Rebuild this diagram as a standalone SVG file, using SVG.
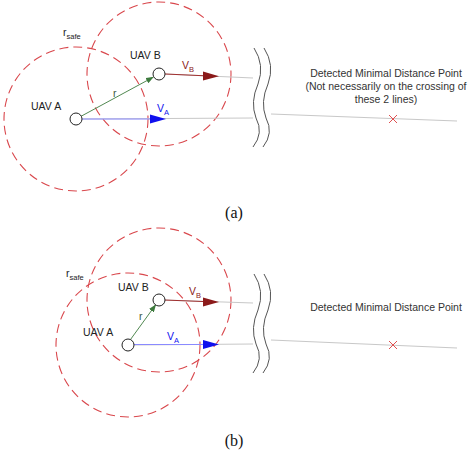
<svg xmlns="http://www.w3.org/2000/svg" width="474" height="452" viewBox="0 0 474 452">
<style>
.safe{fill:none;stroke:#d9474c;stroke-width:1.1;stroke-dasharray:9 5}
.uav{fill:#fff;stroke:#222;stroke-width:1}
.lbl{font-family:"Liberation Sans",Arial,sans-serif;font-size:10.5px;fill:#222}
.sub{font-size:7.5px}
.txt{font-family:"Liberation Sans",Arial,sans-serif;font-size:10.5px;fill:#333;text-anchor:middle}
.ext{fill:none;stroke:#c8c8c8;stroke-width:1}
.wave{fill:none;stroke:#555;stroke-width:1}
.rline{stroke:#3d7a3d;stroke-width:0.9}
.va{stroke:#8a8aff;stroke-width:1}
.vb{stroke:#a03030;stroke-width:1}
.cap{font-family:"Liberation Serif","Times New Roman",serif;font-size:16px;fill:#111;text-anchor:middle}
.x{stroke:#e05050;stroke-width:1}
</style>
<defs>
<marker id="ahR" markerWidth="8" markerHeight="6" refX="7" refY="3" orient="auto" markerUnits="userSpaceOnUse"><path d="M0,0 L8,3 L0,6 Z" fill="#3d7a3d"/></marker>
</defs>

<!-- Panel a -->
<g id="safe-a">
<circle class="safe" cx="76" cy="119" r="72"/>
<circle class="safe" cx="159" cy="74" r="72"/>
</g>
<g id="connectors-a">
<line class="ext" x1="165" y1="74" x2="253" y2="78"/>
<line class="ext" x1="82" y1="119" x2="253" y2="118"/>
<line class="ext" x1="271" y1="114" x2="457" y2="121"/>
<line class="va" x1="82" y1="119" x2="152" y2="119"/>
<path d="M150,114.5 L166,119 L150,123.5 Z" fill="#1010ee"/>
<line class="vb" x1="165" y1="74" x2="205" y2="75.8"/>
<path d="M203,71.5 L219,76.3 L203,80.5 Z" fill="#8b1a1a"/>
<line class="rline" x1="81" y1="116.3" x2="153" y2="77.3" marker-end="url(#ahR)"/>
<path class="wave" d="M254,48 Q265,65 258,84 Q250,102 256,118 Q264,133 253,147"/>
<path class="wave" d="M264,48 Q275,65 268,84 Q260,102 266,118 Q274,133 263,147"/>
</g>
<g id="uav-a-a"><circle class="uav" cx="76" cy="119" r="6"/><text class="lbl" x="31" y="110">UAV A</text></g>
<g id="uav-b-a"><circle class="uav" cx="159" cy="74" r="6"/><text class="lbl" x="130" y="59">UAV B</text></g>
<g id="labels-a">
<text class="lbl" x="63" y="36">r<tspan class="sub" dy="2.5">safe</tspan></text>
<text class="lbl" x="113" y="97" style="fill:#3d5a3d">r</text>
<text class="lbl" x="182" y="69" style="fill:#8b2020">V<tspan class="sub" dy="2.5">B</tspan></text>
<text class="lbl" x="157" y="112" style="fill:#1010ee">V<tspan class="sub" dy="2.5">A</tspan></text>
</g>
<g id="point-a">
<path class="x" d="M389,115 L397,123 M397,115 L389,123"/>
<text class="txt" x="386" y="77">Detected Minimal Distance Point</text>
<text class="txt" x="386" y="90">(Not necessarily on the crossing of</text>
<text class="txt" x="386" y="103">these 2 lines)</text>
</g>
<text class="cap" x="234" y="218">(a)</text>

<!-- Panel b -->
<g id="safe-b">
<circle class="safe" cx="128" cy="345" r="72"/>
<circle class="safe" cx="159" cy="300" r="72"/>
</g>
<g id="connectors-b">
<line class="ext" x1="164" y1="300" x2="253" y2="303"/>
<line class="ext" x1="134" y1="345" x2="253" y2="344"/>
<line class="ext" x1="271" y1="340" x2="457" y2="348"/>
<line class="va" x1="134" y1="344.5" x2="205" y2="344.5"/>
<path d="M203,340 L219,344.5 L203,349 Z" fill="#1010ee"/>
<line class="vb" x1="164" y1="300" x2="205" y2="301.6"/>
<path d="M203,297.5 L219,302 L203,306.5 Z" fill="#8b1a1a"/>
<line class="rline" x1="130.5" y1="339.5" x2="155.5" y2="305" marker-end="url(#ahR)"/>
<path class="wave" d="M254,274 Q265,291 258,310 Q250,328 256,344 Q264,359 253,373"/>
<path class="wave" d="M264,274 Q275,291 268,310 Q260,328 266,344 Q274,359 263,373"/>
</g>
<g id="uav-a-b"><circle class="uav" cx="128" cy="345" r="6"/><text class="lbl" x="83" y="336">UAV A</text></g>
<g id="uav-b-b"><circle class="uav" cx="159" cy="300" r="6"/><text class="lbl" x="118" y="291">UAV B</text></g>
<g id="labels-b">
<text class="lbl" x="66" y="277">r<tspan class="sub" dy="2.5">safe</tspan></text>
<text class="lbl" x="139" y="320" style="fill:#3d5a3d">r</text>
<text class="lbl" x="189" y="295" style="fill:#8b2020">V<tspan class="sub" dy="2.5">B</tspan></text>
<text class="lbl" x="167" y="340" style="fill:#1010ee">V<tspan class="sub" dy="2.5">A</tspan></text>
</g>
<g id="point-b">
<path class="x" d="M389,341 L397,349 M397,341 L389,349"/>
<text class="txt" x="386" y="311">Detected Minimal Distance Point</text>
</g>
<text class="cap" x="234" y="446">(b)</text>
</svg>
